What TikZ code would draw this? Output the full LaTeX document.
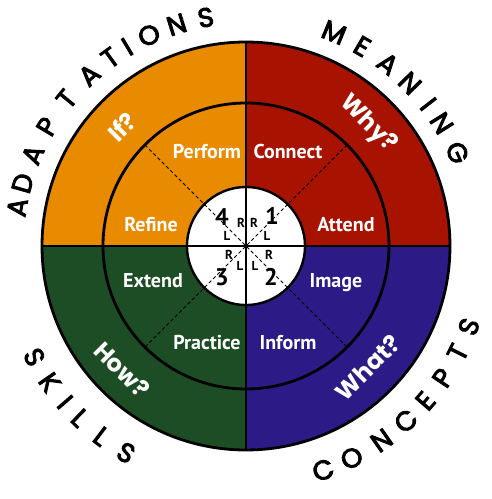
\documentclass[tikz,border=0pt]{standalone}
\usepackage{fontspec}
\newfontfamily\labfont{PT Sans}
\newfontfamily\outfont{Poppins}
\newfontfamily\outmedfont{Poppins}[FakeBold=3.5]
\definecolor{qorange}{RGB}{232,139,0}
\definecolor{qred}{RGB}{168,18,0}
\definecolor{qgreen}{RGB}{29,77,36}
\definecolor{qblue}{RGB}{44,27,134}
\begin{document}
\begin{tikzpicture}[x=1pt,y=1pt,
  ring/.style={line width=2.8pt},
  divider/.style={line width=1.6pt},
  diag/.style={line width=0.8pt, dash pattern=on 3.5pt off 2.5pt},
  lab/.style={text=white, font=\labfont\bfseries\fontsize{20}{24}\selectfont, anchor=base, inner sep=0pt},
  qlab/.style={text=white, font=\outfont\bfseries\fontsize{24}{28}\selectfont, inner sep=0pt},
  num/.style={font=\labfont\bfseries\fontsize{24}{28}\selectfont, inner sep=0pt},
  rl/.style={font=\labfont\bfseries\fontsize{13}{15}\selectfont, inner sep=0pt},
  outer/.style={font=\outmedfont\fontsize{27}{30}\selectfont, inner sep=0pt}]
\useasboundingbox (-246,-253) rectangle (245,246);
% quadrant fills
\fill[qorange] (0,0) -- (180:204) arc (180:90:204) -- cycle;
\fill[qred] (0,0) -- (90:204) arc (90:0:204) -- cycle;
\fill[qblue] (0,0) -- (0:204) arc (360:270:204) -- cycle;
\fill[qgreen] (0,0) -- (270:204) arc (270:180:204) -- cycle;
\fill[white] (0,0) circle (59pt);
% dashed diagonals
\draw[diag] (135:143) -- (315:143);
\draw[diag] (45:143) -- (225:143);
% dividers
\draw[divider] (0,204) -- (0,-204);
\draw[divider] (-204,0) -- (204,0);
% circles
\draw[ring] (0,0) circle (204pt);
\draw[ring] (0,0) circle (143pt);
\draw[line width=2.4pt] (0,0) circle (59pt);
% inner labels
\node[lab] (perform) at (-39,88) {Perform};
\node[lab] (connect) at (42,88) {Connect};
\node[lab] (refine) at (-95,15) {Refine};
\node[lab] (attend) at (100,15) {Attend};
\node[lab] (extend) at (-93,-41) {Extend};
\node[lab] (image) at (90,-41) {Image};
\node[lab] (practice) at (-39,-103) {Practice};
\node[lab] (inform) at (42,-103) {Inform};
% numbers
\node[num] (n4) at (-24,29) {4};
\node[num] (n1) at (26,30) {1};
\node[num] (n3) at (-24,-31) {3};
\node[num] (n2) at (25,-31) {2};
% R / L
\node[rl] (r4) at (-5,23) {R};
\node[rl] (l4) at (-19,10) {L};
\node[rl] (r1) at (8,23) {R};
\node[rl] (l1) at (21,10) {L};
\node[rl] (r3) at (-17,-9) {R};
\node[rl] (l3) at (-6,-20) {L};
\node[rl] (r2) at (23,-9) {R};
\node[rl] (l2) at (9,-20) {L};
% quadrant questions
\node[qlab, rotate=45] (qif) at (136:172) {If?};
\node[qlab, rotate=-45] (qwhy) at (45:172) {Why?};
\node[qlab, rotate=-45] (qhow) at (225:175) {How?};
\node[qlab, rotate=45] (qwhat) at (315:172) {What?};
% outer words
\foreach \ch/\a [count=\i] in {A/170.4, D/164.3, A/156.8, P/149, T/140.7, A/132.5, T/125.8, I/120.8, O/114.7, N/107.4, S/100}
  \node[outer, rotate=\a-90] (adp\i) at (\a:232) {\ch};
\foreach \ch/\a [count=\i] in {M/67.6, E/59.8, A/52.1, N/44.8, I/37.9, N/32.1, G/23.8}
  \node[outer, rotate=\a-90] (mea\i) at (\a:231) {\ch};
\foreach \ch/\a [count=\i] in {S/207.7, K/214.8, I/220.8, L/226, L/232.8, S/239.9}
  \node[outer, rotate=\a+90] (ski\i) at (\a:239) {\ch};
\foreach \ch/\a [count=\i] in {C/289, O/296.5, N/304.9, C/312.4, E/319.2, P/326.2, T/333.3, S/340.1}
  \node[outer, rotate=\a+90] (con\i) at (\a:237) {\ch};
\end{tikzpicture}
\end{document}
